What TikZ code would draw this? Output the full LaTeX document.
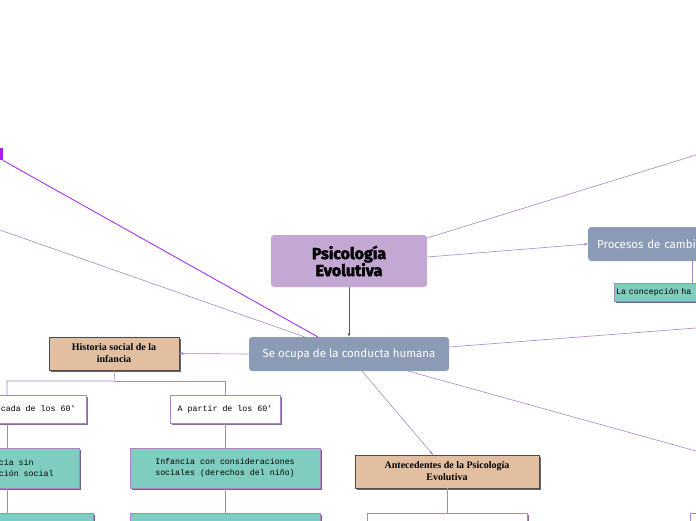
\documentclass[tikz,border=0pt]{standalone}
\usepackage{fontspec}
\setmainfont{Liberation Serif}
\newfontfamily\fira{Fira Sans}
\newfontfamily\firah{Fira Sans}[BoldFeatures={FakeBold=2.5}]
\newfontfamily\mono{Liberation Mono}
\usetikzlibrary{arrows.meta,shadows}
\definecolor{lpur}{HTML}{C3A8D4}
\definecolor{slate}{HTML}{8C9BB5}
\definecolor{teal2}{HTML}{7ECDC0}
\definecolor{tan}{HTML}{E2BFA0}
\definecolor{lnk}{HTML}{A887C4}
\definecolor{brt}{HTML}{A020F0}
\begin{document}
\begin{tikzpicture}[x=1pt,y=-1pt,
  main/.style={draw=none,fill=lpur,rounded corners=3pt,font=\firah\bfseries\fontsize{16}{17}\selectfont,align=center,inner sep=0},
  sub/.style={draw=none,fill=slate,rounded corners=3pt,text=white,font=\fira\fontsize{11.5}{12}\selectfont,inner sep=0},
  hist/.style={draw=black!70,fill=tan,font=\bfseries\fontsize{10}{12}\selectfont,align=center,inner sep=0,drop shadow={shadow xshift=2pt,shadow yshift=-2pt,fill=black!60,opacity=1}},
  wbox/.style={draw=lnk,fill=white,font=\mono\fontsize{8.3}{11}\selectfont,align=center,inner sep=0,drop shadow={shadow xshift=2pt,shadow yshift=-2pt,fill=lnk!80!black,opacity=1}},
  tbox/.style={draw=lnk,fill=teal2,font=\mono\fontsize{8.3}{11}\selectfont,align=center,inner sep=0,drop shadow={shadow xshift=2pt,shadow yshift=-2pt,fill=lnk!70!black,opacity=1}},
  ln/.style={draw=lnk,line width=0.6pt},
  arr/.style={ln,-{Stealth[length=4pt,width=3pt]}}]
\useasboundingbox (0,0) rectangle (696,520);
\clip (0,0) rectangle (696,520);
\node[main,minimum width=156,minimum height=52] (ps) at (349,261) {Psicología\\ Evolutiva};
\node[sub,minimum width=200,minimum height=34] (se) at (349,354) {Se ocupa de la conducta humana};
\node[sub,minimum width=200,minimum height=34,anchor=west,text width=182,align=left,inner xsep=9] (pr) at (588,244) {Procesos de cambio};
\node[tbox,minimum width=140,minimum height=18,anchor=west,text width=136,align=left,inner xsep=2] (lc) at (614,292) {La concepción ha};
\node[hist,minimum width=130,minimum height=33] (hi) at (114,353.5) {Historia social de la\\ infancia};
\node[wbox,minimum width=150,minimum height=28,anchor=east] (d1) at (86,409) {Hasta la década de los 60'};
\node[wbox,minimum width=110,minimum height=28] (d2) at (225,409) {A partir de los 60'};
\node[tbox,minimum width=150,minimum height=40,anchor=east] (i1) at (79,468) {Infancia sin\\ consideración social};
\node[tbox,minimum width=190,minimum height=40] (i2) at (225,468) {Infancia con consideraciones\\ sociales (derechos del niño)};
\node[tbox,minimum width=150,minimum height=20,anchor=north east] (b1) at (93,513) {};
\node[tbox,minimum width=190,minimum height=20,anchor=north] (b2) at (225,513) {};
\node[hist,minimum width=184,minimum height=33] (an) at (447,471.5) {Antecedentes de la Psicología\\ Evolutiva};
\node[wbox,minimum width=160,minimum height=20,anchor=north] (w1) at (447,513) {};
\node[wbox,minimum width=60,minimum height=20,anchor=north west] (w2) at (690,513) {};
\node[fill=brt,minimum width=4,minimum height=12,inner sep=0,anchor=north east] (tl) at (3,148) {};
\coordinate (e1) at (696,155);
\coordinate (e2) at (696,328);
\coordinate (e3) at (696,451);
\coordinate (e4) at (0,230);
% connectors
\draw[arr,draw=lnk!60!black] (ps.south) -- (se.north);
\draw[arr] (ps.east|-0,257) -- (pr.west);
\draw[ln] (427,238) -- (e1);
\draw[ln] (pr.south-|692,0) -- (692,283);
\draw[arr] (se.west) -- (hi.east);
\draw[arr] (362,371) -- (an.north-|433,0);
\draw[ln] (449,347) -- (e2);
\draw[ln] (408,371) -- (e3);
\draw[draw=brt,line width=0.8pt] (318,337) -- (tl.south east);
\draw[ln] (305,337) -- (e4);
\draw[ln] (hi.south) -- (115,381) -| (d1.north-|7,0);
\draw[ln] (115,381) -| (d2.north);
\draw[ln] (d1.south-|7,0) -- (i1.north-|7,0);
\draw[ln] (d2.south) -- (i2.north);
\draw[ln] (i1.south-|7,0) -- (b1.north-|7,0);
\draw[ln] (i2.south) -- (b2.north);
\draw[ln] (an.south) -- (w1.north);
\end{tikzpicture}
\end{document}
